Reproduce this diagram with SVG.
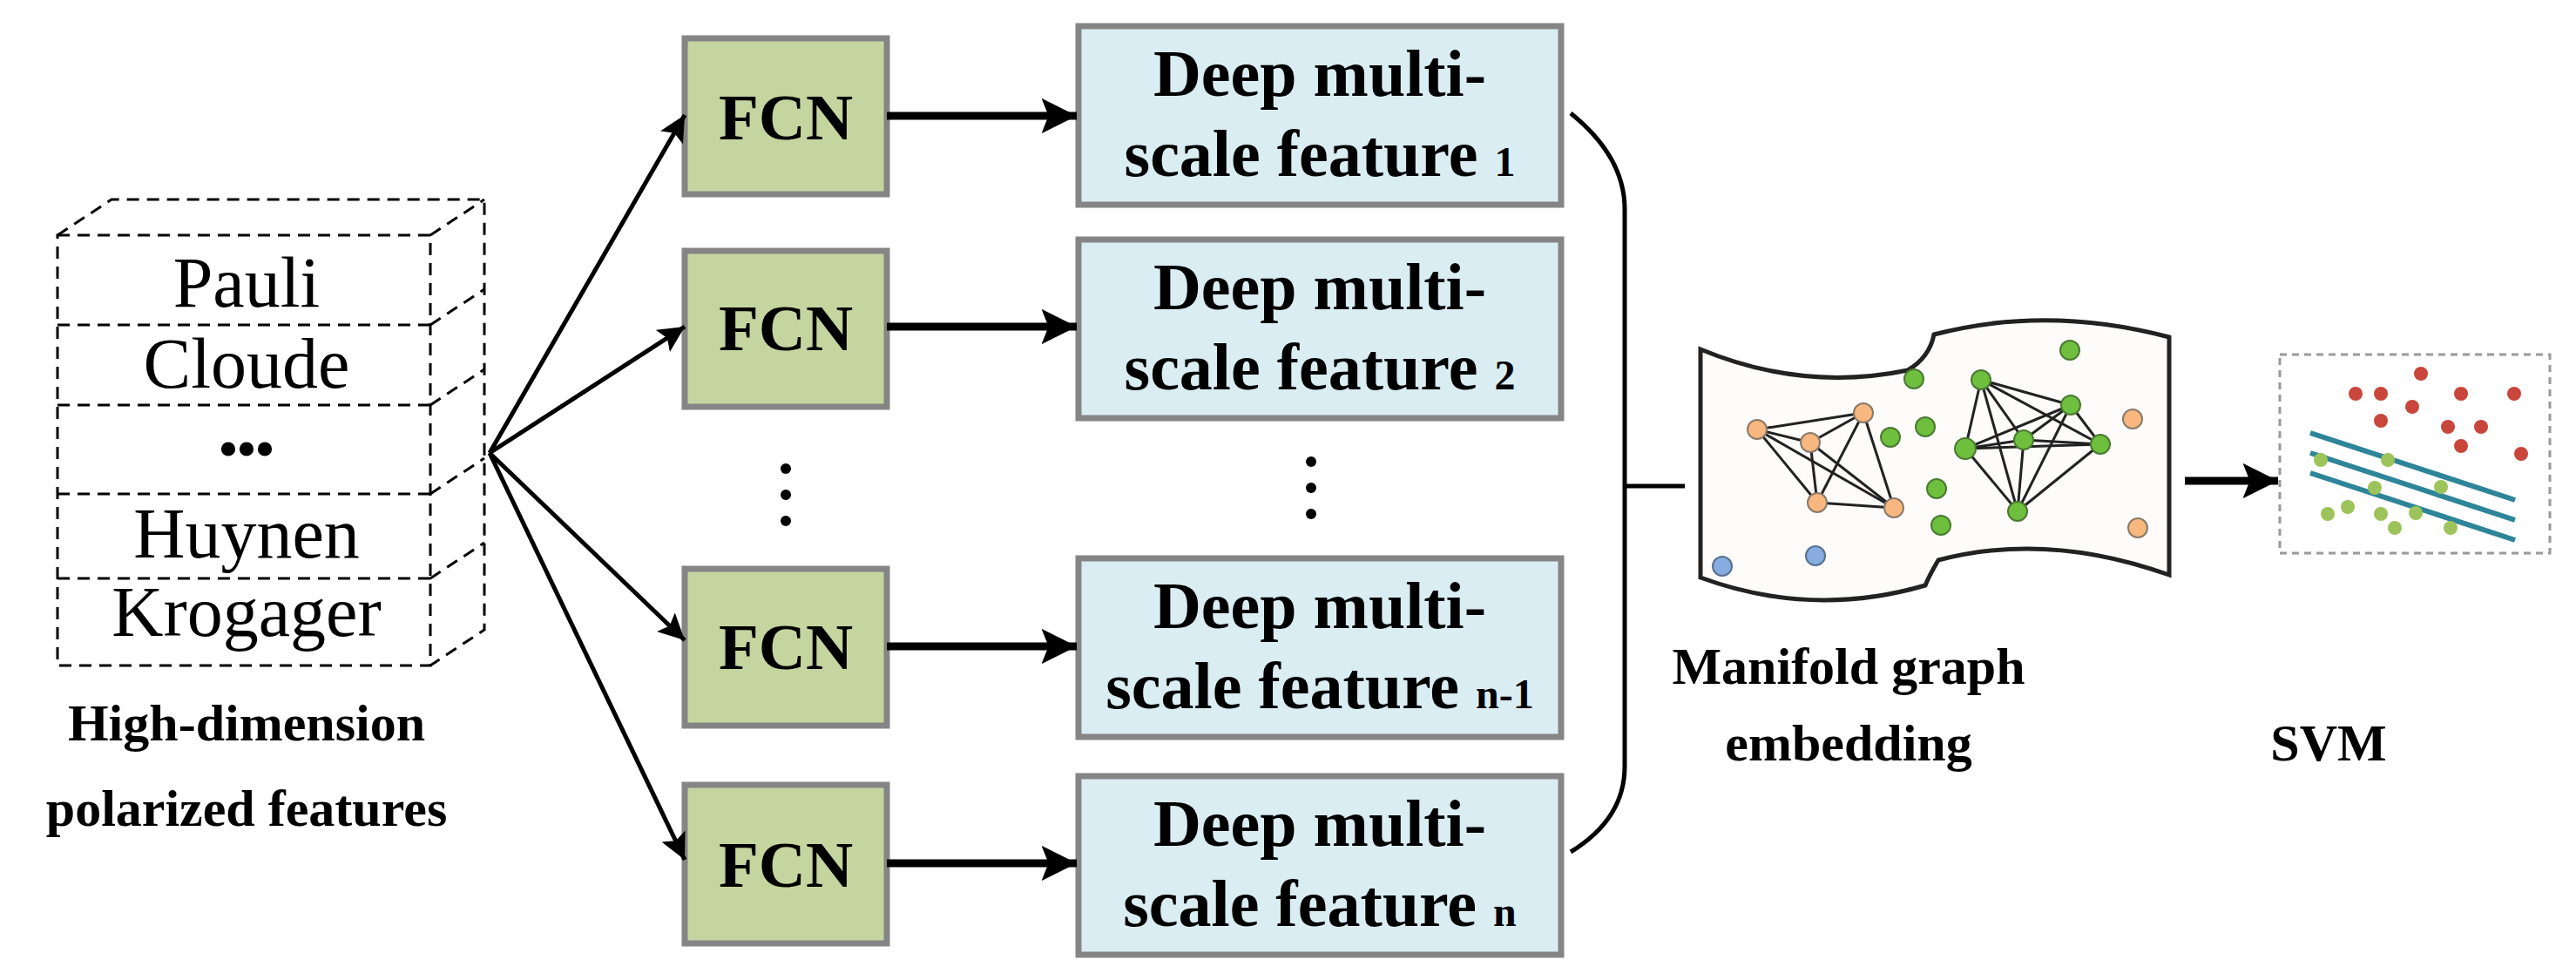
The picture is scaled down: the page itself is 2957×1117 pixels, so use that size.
<svg xmlns="http://www.w3.org/2000/svg" width="2957" height="1117" viewBox="0 0 2957 1117">
<defs>
<style>
.fcn{fill:#c5d5a0;stroke:#858585;stroke-width:7}
.deep{fill:#daedf3;stroke:#858585;stroke-width:7}
.b{font-family:"Liberation Serif","Times New Roman",serif;font-weight:bold;fill:#000;text-anchor:middle}
.r{font-family:"Liberation Serif","Times New Roman",serif;fill:#000;text-anchor:middle;font-size:82px}
.dash{fill:none;stroke:#000;stroke-width:3;stroke-dasharray:14 9}
.ar{fill:none;stroke:#000;stroke-width:5;marker-end:url(#ah)}
.ar2{fill:none;stroke:#000;stroke-width:9;marker-end:url(#ah2)}
.or{fill:#f7b77e;stroke:#8a7a6a;stroke-width:2}
.gr{fill:#6fbf3e;stroke:#4a7a30;stroke-width:2}
.bl{fill:#86ace0;stroke:#5a7090;stroke-width:2}
.ed{stroke:#222;stroke-width:3}
.rd{fill:#c8463c}
.lg{fill:#9cc45a}
.tl{stroke:#2e8599;stroke-width:6}
</style>
<marker id="ah" viewBox="0 0 10 10" refX="10" refY="5" markerWidth="6" markerHeight="6" orient="auto" markerUnits="strokeWidth"><path d="M0,0 L10,5 L0,10 L2,5 z" fill="#000"/></marker>
<marker id="ah2" viewBox="0 0 10 10" refX="10" refY="5" markerWidth="4.5" markerHeight="5" orient="auto" markerUnits="strokeWidth"><path d="M0,0 L10,5 L0,10 L2,5 z" fill="#000"/></marker>
</defs>
<rect width="2957" height="1117" fill="#fff"/>

<g id="stack">
<path class="dash" d="M66,270 L128,229 L556,229 L556,723 L494,764 M494,270 L556,229"/>
<rect class="dash" x="66" y="270" width="428" height="494"/>
<path class="dash" d="M66,373 H494 M66,465 H494 M66,567 H494 M66,664 H494 M494,373 L556,332 M494,465 L556,424 M494,567 L556,526 M494,664 L556,623"/>
<text class="r" x="283" y="352" font-family="Liberation Serif, serif">Pauli</text>
<text class="r" x="283" y="445" font-family="Liberation Serif, serif">Cloude</text>
<text class="b" x="283" y="535" font-size="60" font-family="Liberation Serif, serif">•••</text>
<text class="r" x="283" y="640" font-family="Liberation Serif, serif">Huynen</text>
<text class="r" x="283" y="730" font-family="Liberation Serif, serif">Krogager</text>
<text class="b" x="283" y="850" font-size="60" font-family="Liberation Serif, serif">High-dimension</text>
<text class="b" x="283" y="948" font-size="60" font-family="Liberation Serif, serif">polarized features</text>
</g>

<g id="fcn1"><rect class="fcn" x="786" y="44" width="232" height="179"/><text class="b" x="902" y="160" font-size="75" font-family="Liberation Serif, serif">FCN</text></g>
<g id="fcn2"><rect class="fcn" x="786" y="288" width="232" height="179"/><text class="b" x="902" y="402" font-size="75" font-family="Liberation Serif, serif">FCN</text></g>
<g id="fcn3"><rect class="fcn" x="786" y="653" width="232" height="180"/><text class="b" x="902" y="768" font-size="75" font-family="Liberation Serif, serif">FCN</text></g>
<g id="fcn4"><rect class="fcn" x="786" y="901" width="232" height="182"/><text class="b" x="902" y="1018" font-size="75" font-family="Liberation Serif, serif">FCN</text></g>

<g id="deep1"><rect class="deep" x="1238" y="30" width="554" height="205"/><text class="b" x="1515" y="110" font-size="76" font-family="Liberation Serif, serif">Deep multi-</text><text class="b" x="1515" y="202" font-size="76" font-family="Liberation Serif, serif">scale feature <tspan font-size="48">1</tspan></text></g>
<g id="deep2"><rect class="deep" x="1238" y="275" width="554" height="205"/><text class="b" x="1515" y="355" font-size="76" font-family="Liberation Serif, serif">Deep multi-</text><text class="b" x="1515" y="447" font-size="76" font-family="Liberation Serif, serif">scale feature <tspan font-size="48">2</tspan></text></g>
<g id="deep3"><rect class="deep" x="1238" y="641" width="554" height="205"/><text class="b" x="1515" y="721" font-size="76" font-family="Liberation Serif, serif">Deep multi-</text><text class="b" x="1515" y="813" font-size="76" font-family="Liberation Serif, serif">scale feature <tspan font-size="48">n-1</tspan></text></g>
<g id="deep4"><rect class="deep" x="1238" y="891" width="554" height="205"/><text class="b" x="1515" y="971" font-size="76" font-family="Liberation Serif, serif">Deep multi-</text><text class="b" x="1515" y="1063" font-size="76" font-family="Liberation Serif, serif">scale feature <tspan font-size="48">n</tspan></text></g>

<g id="dots" fill="#000">
<circle cx="902" cy="538" r="6"/><circle cx="902" cy="568" r="6"/><circle cx="902" cy="598" r="6"/>
<circle cx="1505" cy="530" r="6"/><circle cx="1505" cy="560" r="6"/><circle cx="1505" cy="590" r="6"/>
</g>

<g id="connectors">
<path class="ar" d="M562,520 L786,132"/>
<path class="ar" d="M562,520 L786,375"/>
<path class="ar" d="M562,520 L786,735"/>
<path class="ar" d="M562,520 L786,987"/>
<path class="ar2" d="M1018,133 H1236"/>
<path class="ar2" d="M1018,375 H1236"/>
<path class="ar2" d="M1018,742 H1236"/>
<path class="ar2" d="M1018,991 H1236"/>
<path d="M1803,130 Q1865,180 1865,240 V880 Q1865,940 1803,978 M1865,558 H1934" fill="none" stroke="#000" stroke-width="5"/>
<path class="ar2" d="M2508,552 H2615"/>
</g>

<g id="manifold">
<path d="M1952,401 Q2070,450 2190,425 Q2215,410 2220,384 Q2350,350 2490,387 L2490,660 Q2350,610 2225,643 Q2215,660 2210,672 Q2080,710 1952,663 Z" fill="#fdfcfb" stroke="#222" stroke-width="5"/>
<g class="ed">
<line x1="2017" y1="493" x2="2139" y2="474"/><line x1="2017" y1="493" x2="2078" y2="508"/><line x1="2017" y1="493" x2="2086" y2="577"/><line x1="2017" y1="493" x2="2174" y2="583"/>
<line x1="2139" y1="474" x2="2078" y2="508"/><line x1="2139" y1="474" x2="2086" y2="577"/><line x1="2139" y1="474" x2="2174" y2="583"/>
<line x1="2078" y1="508" x2="2086" y2="577"/><line x1="2078" y1="508" x2="2174" y2="583"/><line x1="2086" y1="577" x2="2174" y2="583"/>
<line x1="2274" y1="436" x2="2377" y2="465"/><line x1="2274" y1="436" x2="2256" y2="515"/><line x1="2274" y1="436" x2="2323" y2="505"/><line x1="2274" y1="436" x2="2411" y2="510"/><line x1="2274" y1="436" x2="2316" y2="587"/>
<line x1="2377" y1="465" x2="2256" y2="515"/><line x1="2377" y1="465" x2="2323" y2="505"/><line x1="2377" y1="465" x2="2411" y2="510"/><line x1="2377" y1="465" x2="2316" y2="587"/>
<line x1="2256" y1="515" x2="2323" y2="505"/><line x1="2256" y1="515" x2="2411" y2="510"/><line x1="2256" y1="515" x2="2316" y2="587"/>
<line x1="2323" y1="505" x2="2411" y2="510"/><line x1="2323" y1="505" x2="2316" y2="587"/><line x1="2411" y1="510" x2="2316" y2="587"/>
</g>
<g class="or"><circle cx="2017" cy="493" r="11"/><circle cx="2139" cy="474" r="11"/><circle cx="2078" cy="508" r="11"/><circle cx="2086" cy="577" r="11"/><circle cx="2174" cy="583" r="11"/><circle cx="2448" cy="481" r="11"/><circle cx="2454" cy="606" r="11"/></g>
<g class="bl"><circle cx="1977" cy="650" r="11"/><circle cx="2084" cy="638" r="11"/></g>
<g class="gr"><circle cx="2197" cy="435" r="11"/><circle cx="2376" cy="402" r="11"/><circle cx="2170" cy="502" r="11"/><circle cx="2210" cy="490" r="11"/><circle cx="2223" cy="561" r="11"/><circle cx="2228" cy="603" r="11"/>
<circle cx="2274" cy="436" r="11"/><circle cx="2377" cy="465" r="11"/><circle cx="2256" cy="515" r="12"/><circle cx="2323" cy="505" r="11"/><circle cx="2411" cy="510" r="11"/><circle cx="2316" cy="587" r="11"/></g>
<text class="b" x="2122" y="785" font-size="60" font-family="Liberation Serif, serif">Manifold graph</text>
<text class="b" x="2122" y="873" font-size="60" font-family="Liberation Serif, serif">embedding</text>
</g>

<g id="svm">
<rect x="2617" y="407" width="310" height="228" fill="#fff" stroke="#999" stroke-width="3" stroke-dasharray="8 6"/>
<g class="rd"><circle cx="2779" cy="429" r="8"/><circle cx="2704" cy="452" r="8"/><circle cx="2733" cy="452" r="8"/><circle cx="2825" cy="452" r="8"/><circle cx="2886" cy="452" r="8"/><circle cx="2769" cy="467" r="8"/><circle cx="2733" cy="483" r="8"/><circle cx="2810" cy="490" r="8"/><circle cx="2848" cy="490" r="8"/><circle cx="2825" cy="512" r="8"/><circle cx="2894" cy="521" r="8"/></g>
<g class="tl"><line x1="2652" y1="497" x2="2887" y2="574"/><line x1="2652" y1="520" x2="2887" y2="597"/><line x1="2652" y1="543" x2="2887" y2="620"/></g>
<g class="lg"><circle cx="2664" cy="528" r="8"/><circle cx="2741" cy="528" r="8"/><circle cx="2726" cy="560" r="8"/><circle cx="2802" cy="559" r="8"/><circle cx="2695" cy="582" r="8"/><circle cx="2672" cy="590" r="8"/><circle cx="2733" cy="590" r="8"/><circle cx="2773" cy="589" r="8"/><circle cx="2749" cy="606" r="8"/><circle cx="2813" cy="606" r="8"/></g>
<text class="b" x="2673" y="873" font-size="60" font-family="Liberation Serif, serif">SVM</text>
</g>
</svg>
